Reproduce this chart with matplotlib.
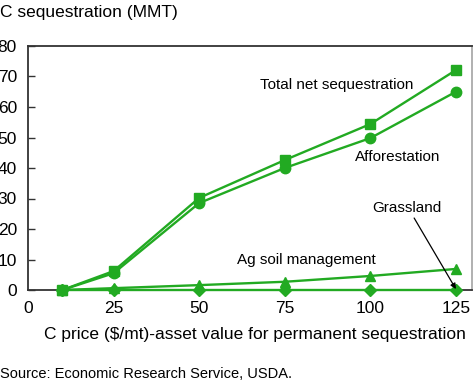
import matplotlib
matplotlib.use("Agg")
import matplotlib.pyplot as plt

prices = [10, 25, 50, 75, 100, 125]
total_net = [0, 6.2, 30.2, 42.6, 54.4, 72.1]
afforestation = [0, 5.5, 28.5, 40.0, 49.8, 65.0]
ag_soil = [0, 0.6, 1.6, 2.7, 4.6, 6.9]
grassland = [0, 0, 0, 0, 0, 0]
xticks = [0, 25, 50, 75, 100, 125]
yticks = [0, 10, 20, 30, 40, 50, 60, 70, 80]

plt.rcParams['font.family'] = ['Liberation Sans', 'DejaVu Sans']
green = '#22aa22'

fig = plt.figure(figsize=(4.74, 3.84), dpi=100)
ax = fig.add_axes([28/474, 94/384, 444/474, 244/384])

lw = 1.7
ax.plot(prices, total_net, color=green, lw=lw, marker='s', ms=7.5, clip_on=False, zorder=3)
ax.plot(prices, afforestation, color=green, lw=lw, marker='o', ms=7.5, clip_on=False, zorder=3)
ax.plot(prices, ag_soil, color=green, lw=lw, marker='^', ms=7.5, clip_on=False, zorder=3)
ax.plot(prices, grassland, color=green, lw=lw, marker='D', ms=6, clip_on=False, zorder=3)

ax.set_xlim(0, 129.7)
ax.set_ylim(0, 80)
ax.set_xticks(xticks)
ax.set_yticks(yticks)
ax.tick_params(axis='x', length=0, pad=8, labelsize=12.5)
ax.tick_params(axis='y', direction='in', length=5, width=1, color='#333333', pad=8, labelsize=12.5)

for s in ['left', 'top', 'bottom']:
    ax.spines[s].set_color('#333333')
    ax.spines[s].set_linewidth(1.3)
ax.spines['right'].set_color('#aaaaaa')
ax.spines['right'].set_linewidth(1.3)

fs = 11
ax.text(67.8, 67.2, 'Total net sequestration', fontsize=fs, va='center', ha='left')
ax.text(95.5, 43.6, 'Afforestation', fontsize=fs, va='center', ha='left')
ax.text(100.5, 27.0, 'Grassland', fontsize=fs, va='center', ha='left')
ax.text(61.0, 9.8, 'Ag soil management', fontsize=fs, va='center', ha='left')
ax.annotate('', xy=(125, 0.3), xytext=(112.8, 23.6),
            arrowprops=dict(arrowstyle='-|>', color='black', lw=0.9,
                            mutation_scale=8, shrinkA=0, shrinkB=0))

fig.text(0.0, 1 - 12/384, 'C sequestration (MMT)', fontsize=12.5, va='center', ha='left')
fig.text((42 + 468) / 2 / 474, 1 - 335/384,
         'C price ($/mt)-asset value for permanent sequestration',
         fontsize=12.5, va='center', ha='center')
fig.text(0.0, 1 - 374/384, 'Source: Economic Research Service, USDA.',
         fontsize=10.5, va='center', ha='left')

fig.savefig('out.png', dpi=100)
